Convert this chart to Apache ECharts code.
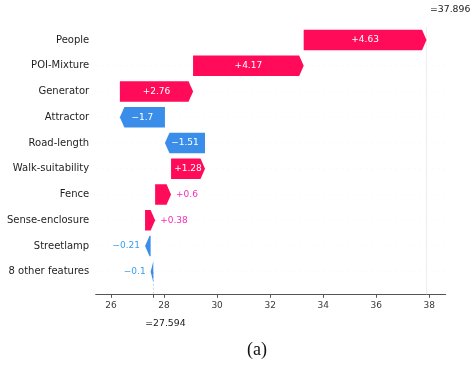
<!DOCTYPE html>
<html>
<head>
<meta charset="utf-8">
<script src="https://cdn.jsdelivr.net/npm/echarts@6/dist/echarts.min.js"></script>
<style>
html,body{margin:0;padding:0;background:#fff;}
#chart{width:474px;height:365px;}
</style>
</head>
<body>
<div id="chart"></div>
<script>
// ---- data ----
const features = ['People', 'POI-Mixture', 'Generator', 'Attractor', 'Road-length',
  'Walk-suitability', 'Fence', 'Sense-enclosure', 'Streetlamp', '8 other features'];
const shapValues = [4.63, 4.17, 2.76, -1.7, -1.51, 1.28, 0.6, 0.38, -0.21, -0.1];
const baseValue = 27.594;
const fxValue = 37.896;
const tickValues = [26, 28, 30, 32, 34, 36, 38];

// ---- styles ----
const POS = '#ff0b5a', NEG = '#3a8eea';
const POS_TXT = '#f22fb8', NEG_TXT = '#3a9ff0';
const FONT = 'DejaVu Sans';

// waterfall: accumulate from bottom row (last feature) up to top
const barData = [];
let cur = baseValue;
for (let i = features.length - 1; i >= 0; i--) {
  const s = cur, e = cur + shapValues[i];
  barData.push([i, s, e, shapValues[i]]);
  cur = e;
}

const ctx = document.createElement('canvas').getContext('2d');
ctx.font = '9px "' + FONT + '"';
function fmt(v) { return (v >= 0 ? '+' : '\u2212') + Math.abs(v); }

function renderBar(params, api) {
  const i = api.value(0), s = api.value(1), e = api.value(2), v = api.value(3);
  const p0 = api.coord([s, i]);
  const p1 = api.coord([e, i]);
  const band = api.size([0, 1])[1];
  const h = band * 0.8;
  const ym = p0[1], y0 = ym - h / 2, y1 = ym + h / 2;
  const dir = v >= 0 ? 1 : -1;
  const w = Math.abs(p1[0] - p0[0]);
  const head = Math.min(w, 4.5);
  const xb = p1[0] - dir * head;
  const color = v >= 0 ? POS : NEG;
  const txt = fmt(v);
  const tw = ctx.measureText(txt).width;
  const children = [{
    type: 'polygon',
    shape: { points: [[p0[0], y0], [xb, y0], [p1[0], ym], [xb, y1], [p0[0], y1]] },
    style: { fill: color }
  }];
  if (w > tw + 4) {
    children.push({
      type: 'text',
      style: { text: txt, x: (p0[0] + p1[0]) / 2, y: ym, align: 'center', verticalAlign: 'middle',
        fill: '#fff', font: '9px "' + FONT + '"' }
    });
  } else {
    children.push({
      type: 'text',
      style: { text: txt, x: p1[0] + dir * 5, y: ym, align: dir > 0 ? 'left' : 'right', verticalAlign: 'middle',
        fill: v >= 0 ? POS_TXT : NEG_TXT, font: '9px "' + FONT + '"' }
    });
  }
  return { type: 'group', children: children };
}

// row guide lines + base / f(x) annotations
function renderAnno(params, api) {
  const cs = params.coordSys;
  const axisY = cs.y + cs.height + 9.7;
  const children = [];
  if (params.dataIndex === 0) {
    for (let i = 0; i < features.length; i++) {
      const y = api.coord([cs.x, i])[1];
      children.push({ type: 'line', shape: { x1: cs.x, y1: y, x2: cs.x + cs.width, y2: y },
        style: { stroke: '#eeeeee', lineWidth: 0.6, lineDash: [1, 5] }, z2: -1 });
    }
    const pb = api.coord([baseValue, features.length - 1]);
    children.push({ type: 'line', shape: { x1: pb[0], y1: pb[1], x2: pb[0], y2: axisY },
      style: { stroke: '#9fc4ea', lineWidth: 0.7, lineDash: [2, 2] } });
    children.push({ type: 'text', style: { text: '=' + baseValue.toFixed(3), x: pb[0] - 8, y: axisY + 29,
      align: 'left', verticalAlign: 'middle', fill: '#1a1a1a', font: '9.3px "' + FONT + '"' } });
    const pf = api.coord([fxValue, 0]);
    children.push({ type: 'line', shape: { x1: pf[0], y1: cs.y, x2: pf[0], y2: axisY },
      style: { stroke: '#e8e8e8', lineWidth: 0.8 } });
    children.push({ type: 'text', style: { text: '=' + fxValue.toFixed(3), x: pf[0] + 3.5, y: 10,
      align: 'left', verticalAlign: 'middle', fill: '#1a1a1a', font: '9.3px "' + FONT + '"' } });
  }
  return { type: 'group', children: children };
}

const chart = echarts.init(document.getElementById('chart'));
chart.setOption({
  animation: false,
  backgroundColor: '#fff',
  grid: { left: 95.7, right: 28.3, top: 27.1, bottom: 80.4 },
  xAxis: {
    type: 'value', min: 25.423, max: 38.618, offset: 9.7,
    axisLine: { show: true, lineStyle: { color: '#555', width: 1 } },
    axisTick: { show: true, length: 3.5, customValues: tickValues.concat([baseValue]), lineStyle: { color: '#555' } },
    axisLabel: { customValues: tickValues, color: '#3a3a3a', fontFamily: FONT, fontSize: 9, margin: 7 },
    splitLine: { show: false }
  },
  yAxis: {
    type: 'category', inverse: true, data: features,
    axisLine: { show: false }, axisTick: { show: false },
    axisLabel: { color: '#1e1e1e', fontFamily: FONT, fontSize: 10, margin: 6.5 },
    splitLine: { show: false }
  },
  graphic: [{
    type: 'text', x: 257, y: 350,
    style: { text: '(a)', align: 'center', verticalAlign: 'middle', fill: '#111',
      font: '18px "Liberation Serif"' }
  }],
  series: [
    { type: 'custom', renderItem: renderAnno, data: [[0]], clip: false, silent: true, z: 1,
      encode: { x: 0 } },
    { type: 'custom', renderItem: renderBar, data: barData, clip: false, z: 2,
      encode: { y: 0, x: [1, 2] } }
  ]
});
</script>
</body>
</html>
